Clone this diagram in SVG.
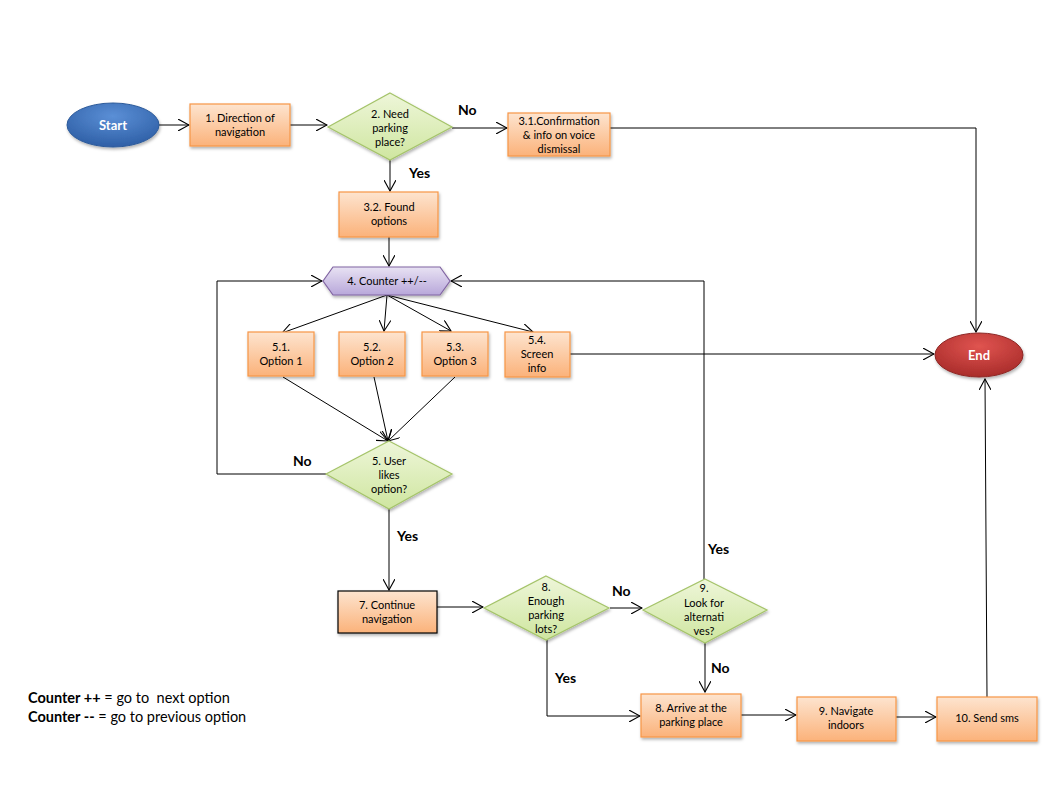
<svg xmlns="http://www.w3.org/2000/svg" width="1053" height="788" viewBox="0 0 1053 788">
<defs>
<linearGradient id="gOr" x1="0" y1="0" x2="0" y2="1"><stop offset="0" stop-color="#fde4cf"/><stop offset="1" stop-color="#fbb27a"/></linearGradient>
<linearGradient id="gGr" x1="0" y1="0" x2="0" y2="1"><stop offset="0" stop-color="#eef6d9"/><stop offset="1" stop-color="#cfe6a0"/></linearGradient>
<linearGradient id="gPu" x1="0" y1="0" x2="0" y2="1"><stop offset="0" stop-color="#e8e2f3"/><stop offset="1" stop-color="#b8a7da"/></linearGradient>
<radialGradient id="gBl" cx="0.5" cy="0.3" r="0.7"><stop offset="0" stop-color="#5b8fd6"/><stop offset="1" stop-color="#2e5fa6"/></radialGradient>
<radialGradient id="gRd" cx="0.5" cy="0.3" r="0.7"><stop offset="0" stop-color="#e05450"/><stop offset="1" stop-color="#a92c2a"/></radialGradient>
<filter id="sh" x="-10%" y="-10%" width="130%" height="140%"><feDropShadow dx="1" dy="2" stdDeviation="1.5" flood-color="#000" flood-opacity="0.3"/></filter>
<marker id="ar" viewBox="0 0 12 12" refX="11" refY="6" markerWidth="12" markerHeight="12" markerUnits="userSpaceOnUse" orient="auto"><path d="M0,0 L11,6 L0,12" fill="none" stroke="#000" stroke-width="1.1"/></marker>
<style>
.box{fill:url(#gOr);stroke:#f79646;stroke-width:1.2;filter:url(#sh)}
.box7{fill:url(#gOr);stroke:#000;stroke-width:1.2;filter:url(#sh)}
.dia{fill:url(#gGr);stroke:#a5c46a;stroke-width:1.2;filter:url(#sh)}
.hex{fill:url(#gPu);stroke:#8064a2;stroke-width:1.2;filter:url(#sh)}
.t{font-family:Lato,"Noto Sans",sans-serif;font-size:11px;fill:#000;text-anchor:middle}
.tw{font-family:Lato,"Noto Sans",sans-serif;font-size:13px;font-weight:bold;fill:#fff;text-anchor:middle}
.lbl{font-family:Lato,"Noto Sans",sans-serif;font-size:14px;font-weight:bold;fill:#000}
.leg{font-family:Lato,"Noto Sans",sans-serif;font-size:14.5px;fill:#000}
.c{fill:none;stroke:#000;stroke-width:1;marker-end:url(#ar)}
</style>
</defs>
<rect width="1053" height="788" fill="#fff"/>

<g id="connectors">
<path class="c" d="M159,125 L189,125"/>
<path class="c" d="M290,125 L327,125"/>
<path class="c" d="M452,128 L507,128"/>
<path class="c" d="M610,128 L976,128 L976,332"/>
<path class="c" d="M390,160 L390,191"/>
<path class="c" d="M389,237 L389,266"/>
<path class="c" d="M387,295 L282,333"/>
<path class="c" d="M387,295 L384,331"/>
<path class="c" d="M387,295 L451,331"/>
<path class="c" d="M387,295 L533,332"/>
<path class="c" d="M570,354 L934,354"/>
<path class="c" d="M283,377 L388,441"/>
<path class="c" d="M374,377 L388,441"/>
<path class="c" d="M455,377 L388,441"/>
<path class="c" d="M326,474 L217,474 L217,281 L322,281"/>
<path class="c" d="M389,509 L389,590"/>
<path class="c" d="M437,607 L483,607"/>
<path class="c" d="M610,608 L642,608"/>
<path class="c" d="M704,579 L704,281 L451,281"/>
<path class="c" d="M705,643 L705,692"/>
<path class="c" d="M547,640 L547,716 L640,716"/>
<path class="c" d="M741,715 L796,715"/>
<path class="c" d="M896,717 L936,717"/>
<path class="c" d="M987,697 L985,379"/>
</g>

<g id="start"><ellipse cx="113" cy="125" rx="46" ry="22" fill="url(#gBl)" stroke="#2c5a9a" stroke-width="1" filter="url(#sh)"/><text class="tw" x="113" y="130">Start</text></g>
<g id="n1"><rect class="box" x="190" y="104" width="100" height="42"/><text class="t" x="240" y="122">1. Direction of</text><text class="t" x="240" y="136">navigation</text></g>
<g id="n2"><polygon class="dia" points="390,93 452,127 390,160 328,127"/><text class="t" x="390" y="118">2. Need</text><text class="t" x="390" y="132">parking</text><text class="t" x="390" y="146">place?</text></g>
<g id="n31"><rect class="box" x="508" y="113" width="102" height="43"/><text class="t" x="559" y="125">3.1.Confirmation</text><text class="t" x="559" y="139">&amp; info on voice</text><text class="t" x="559" y="153">dismissal</text></g>
<g id="n32"><rect class="box" x="339" y="192" width="99" height="45"/><text class="t" x="389" y="211">3.2. Found</text><text class="t" x="389" y="225">options</text></g>
<g id="n4"><polygon class="hex" points="323,281 333,267 440,267 450,281 440,295 333,295"/><text class="t" x="387" y="285">4. Counter ++/--</text></g>
<g id="n51"><rect class="box" x="248" y="332" width="66" height="44"/><text class="t" x="281" y="351">5.1.</text><text class="t" x="281" y="365">Option 1</text></g>
<g id="n52"><rect class="box" x="339" y="332" width="66" height="44"/><text class="t" x="372" y="351">5.2.</text><text class="t" x="372" y="365">Option 2</text></g>
<g id="n53"><rect class="box" x="422" y="332" width="66" height="44"/><text class="t" x="455" y="351">5.3.</text><text class="t" x="455" y="365">Option 3</text></g>
<g id="n54"><rect class="box" x="505" y="332" width="65" height="45"/><text class="t" x="537" y="344">5.4.</text><text class="t" x="537" y="358">Screen</text><text class="t" x="537" y="372">info</text></g>
<g id="end"><ellipse cx="979" cy="355" rx="44" ry="22" fill="url(#gRd)" stroke="#8c2624" stroke-width="1" filter="url(#sh)"/><text class="tw" x="979" y="360">End</text></g>
<g id="n5"><polygon class="dia" points="389,441 452,474 389,509 326,474"/><text class="t" x="389" y="465">5. User</text><text class="t" x="389" y="479">likes</text><text class="t" x="389" y="493">option?</text></g>
<g id="n7"><rect class="box7" x="338" y="591" width="99" height="42"/><text class="t" x="387" y="609">7. Continue</text><text class="t" x="387" y="623">navigation</text></g>
<g id="n8"><polygon class="dia" points="546,576 609,608 546,640 484,608"/><text class="t" x="546" y="591">8.</text><text class="t" x="546" y="605">Enough</text><text class="t" x="546" y="619">parking</text><text class="t" x="546" y="633">lots?</text></g>
<g id="n9"><polygon class="dia" points="705,579 767,610 705,643 643,610"/><text class="t" x="704" y="592">9.</text><text class="t" x="704" y="607">Look for</text><text class="t" x="704" y="621">alternati</text><text class="t" x="704" y="635">ves?</text></g>
<g id="n8b"><rect class="box" x="641" y="694" width="100" height="43"/><text class="t" x="691" y="712">8. Arrive at the</text><text class="t" x="691" y="726">parking place</text></g>
<g id="n9b"><rect class="box" x="797" y="697" width="99" height="44"/><text class="t" x="846" y="715">9. Navigate</text><text class="t" x="846" y="729">indoors</text></g>
<g id="n10"><rect class="box" x="937" y="697" width="100" height="44"/><text class="t" x="987" y="722">10. Send sms</text></g>

<g id="labels">
<text class="lbl" x="458" y="115">No</text>
<text class="lbl" x="409" y="178">Yes</text>
<text class="lbl" x="293" y="466">No</text>
<text class="lbl" x="397" y="541">Yes</text>
<text class="lbl" x="612" y="596">No</text>
<text class="lbl" x="708" y="554">Yes</text>
<text class="lbl" x="711" y="673">No</text>
<text class="lbl" x="555" y="683">Yes</text>
</g>
<g id="legend">
<text class="leg" x="28" y="703"><tspan font-weight="bold">Counter ++</tspan> = go to&#160; next option</text>
<text class="leg" x="28" y="722"><tspan font-weight="bold">Counter --</tspan> = go to previous option</text>
</g>
</svg>
